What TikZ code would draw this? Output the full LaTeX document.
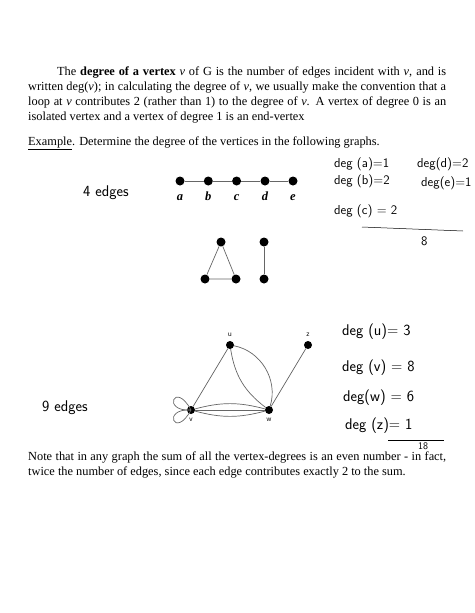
\documentclass[tikz,border=0pt]{standalone}
\usepackage{fontspec}
\setmainfont{Liberation Serif}
\setsansfont{Liberation Sans}
\newfontfamily\hand{Latin Modern Sans}
\begin{document}
\begin{tikzpicture}[x=1pt,y=1pt,
    vtx/.style={circle, fill=black, inner sep=0pt, minimum size=9pt},
    svtx/.style={circle, fill=black, inner sep=0pt, minimum size=8pt},
    arista/.style={gray!80!black, line width=0.7pt},
    etq/.style={font=\bfseries\itshape\fontsize{12.5}{14}\selectfont, inner sep=0pt,
      text height=8pt, text depth=0pt, label distance=6.5pt},
    setq/.style={font=\sffamily\fontsize{6.5}{7}\selectfont, label distance=0.5pt},
    mano/.style={font=\hand\fontsize{13}{15}\selectfont, anchor=west, inner sep=0pt},
    grande/.style={font=\hand\fontsize{15.5}{17}\selectfont},
    texto/.style={anchor=north west, text width=418pt, align=justify, inner sep=0pt,
      font=\fontsize{12.35}{15}\selectfont}]

  % Marco
  \useasboundingbox (0,0) rectangle (474,-613);

  % Definicion
  \node[texto] (def) at (28,-67) {\hspace*{29pt}The \textbf{degree of a vertex} \textit{v} of G is the number of edges incident with \textit{v}, and is written deg(\textit{v}); in calculating the degree of \textit{v}, we usually make the convention that a loop at \textit{v} contributes 2 (rather than 1) to the degree of \textit{v}. A vertex of degree 0 is an isolated vertex and a vertex of degree 1 is an end-vertex};

  % Ejemplo
  \node[anchor=base west, inner sep=0pt, font=\fontsize{12.35}{15}\selectfont] (ej) at (28,-145)
    {\underline{Example}. Determine the degree of the vertices in the following graphs.};

  % Camino a--e
  \foreach \n/\x in {a/180,b/208.3,c/236.6,d/265,e/293}
    \node[vtx, label={[etq]below:\n}] (\n) at (\x,-181) {};
  \draw[arista] (a) -- (b) -- (c) -- (d) -- (e);

  % Triangulo y arista suelta
  \node[vtx] (t1) at (221,-242) {};
  \node[vtx] (t2) at (205,-279) {};
  \node[vtx] (t3) at (236,-279) {};
  \node[vtx] (s1) at (264,-242) {};
  \node[vtx] (s2) at (264,-279) {};
  \draw[arista] (t1) -- (t2) -- (t3) -- (t1);
  \draw[arista] (s1) -- (s2);

  % Grafo u, v, w, z
  \node[svtx, label={[setq]above:u}] (u) at (230,-345) {};
  \node[svtx, label={[setq]above:z}] (z) at (308,-345) {};
  \node[svtx, label={[setq]below:v}] (v) at (191,-410) {};
  \node[svtx, label={[setq]below:w}] (w) at (269,-410) {};
  \draw[arista] (u) -- (v);
  \draw[arista] (w) -- (z);
  \draw[arista] (u) to[bend right=22] (w);
  \draw[arista] (u) to[bend left=48] (w);
  \draw[arista] (v) to[bend left=15] (w);
  \draw[arista] (v) -- (w);
  \draw[arista] (v) to[bend right=15] (w);
  % lazos en v
  \draw[arista] (v.center) .. controls +(-30,-2) and +(-16,30) .. (v.center);
  \draw[arista] (v.center) .. controls +(-16,-30) and +(-30,2) .. (v.center);

  % Notas a mano
  \node[mano, grande] (n4) at (83,-193) {4 edges};
  \node[mano] (da) at (334,-164) {deg (a)=1};
  \node[mano] (dd) at (417,-164) {deg(d)=2};
  \node[mano] (db) at (334,-181) {deg (b)=2};
  \node[mano] (de) at (421,-183) {deg(e)=1};
  \node[mano] (dc) at (334,-211) {deg (c) = 2};
  \draw[line width=0.5pt] (362,-227) -- (463,-231);
  \node[mano] (s8) at (421,-241) {8};

  \node[mano, grande] (n9) at (42,-408) {9 edges};
  \node[mano, grande] (du) at (342,-332) {deg (u)= 3};
  \node[mano, grande] (dv) at (342,-368) {deg (v) = 8};
  \node[mano, grande] (dw) at (343,-398) {deg(w) = 6};
  \node[mano, grande] (dz) at (345,-426) {deg (z)= 1};
  \draw[line width=0.5pt] (388,-440) -- (444,-440);
  \node[mano, font=\hand\fontsize{10}{11}\selectfont] (s18) at (418,-446) {18};

  % Nota final
  \node[texto] (nota) at (28,-452) {Note that in any graph the sum of all the vertex-degrees is an even number - in fact, twice the number of edges, since each edge contributes exactly 2 to the sum.};

\end{tikzpicture}
\end{document}
